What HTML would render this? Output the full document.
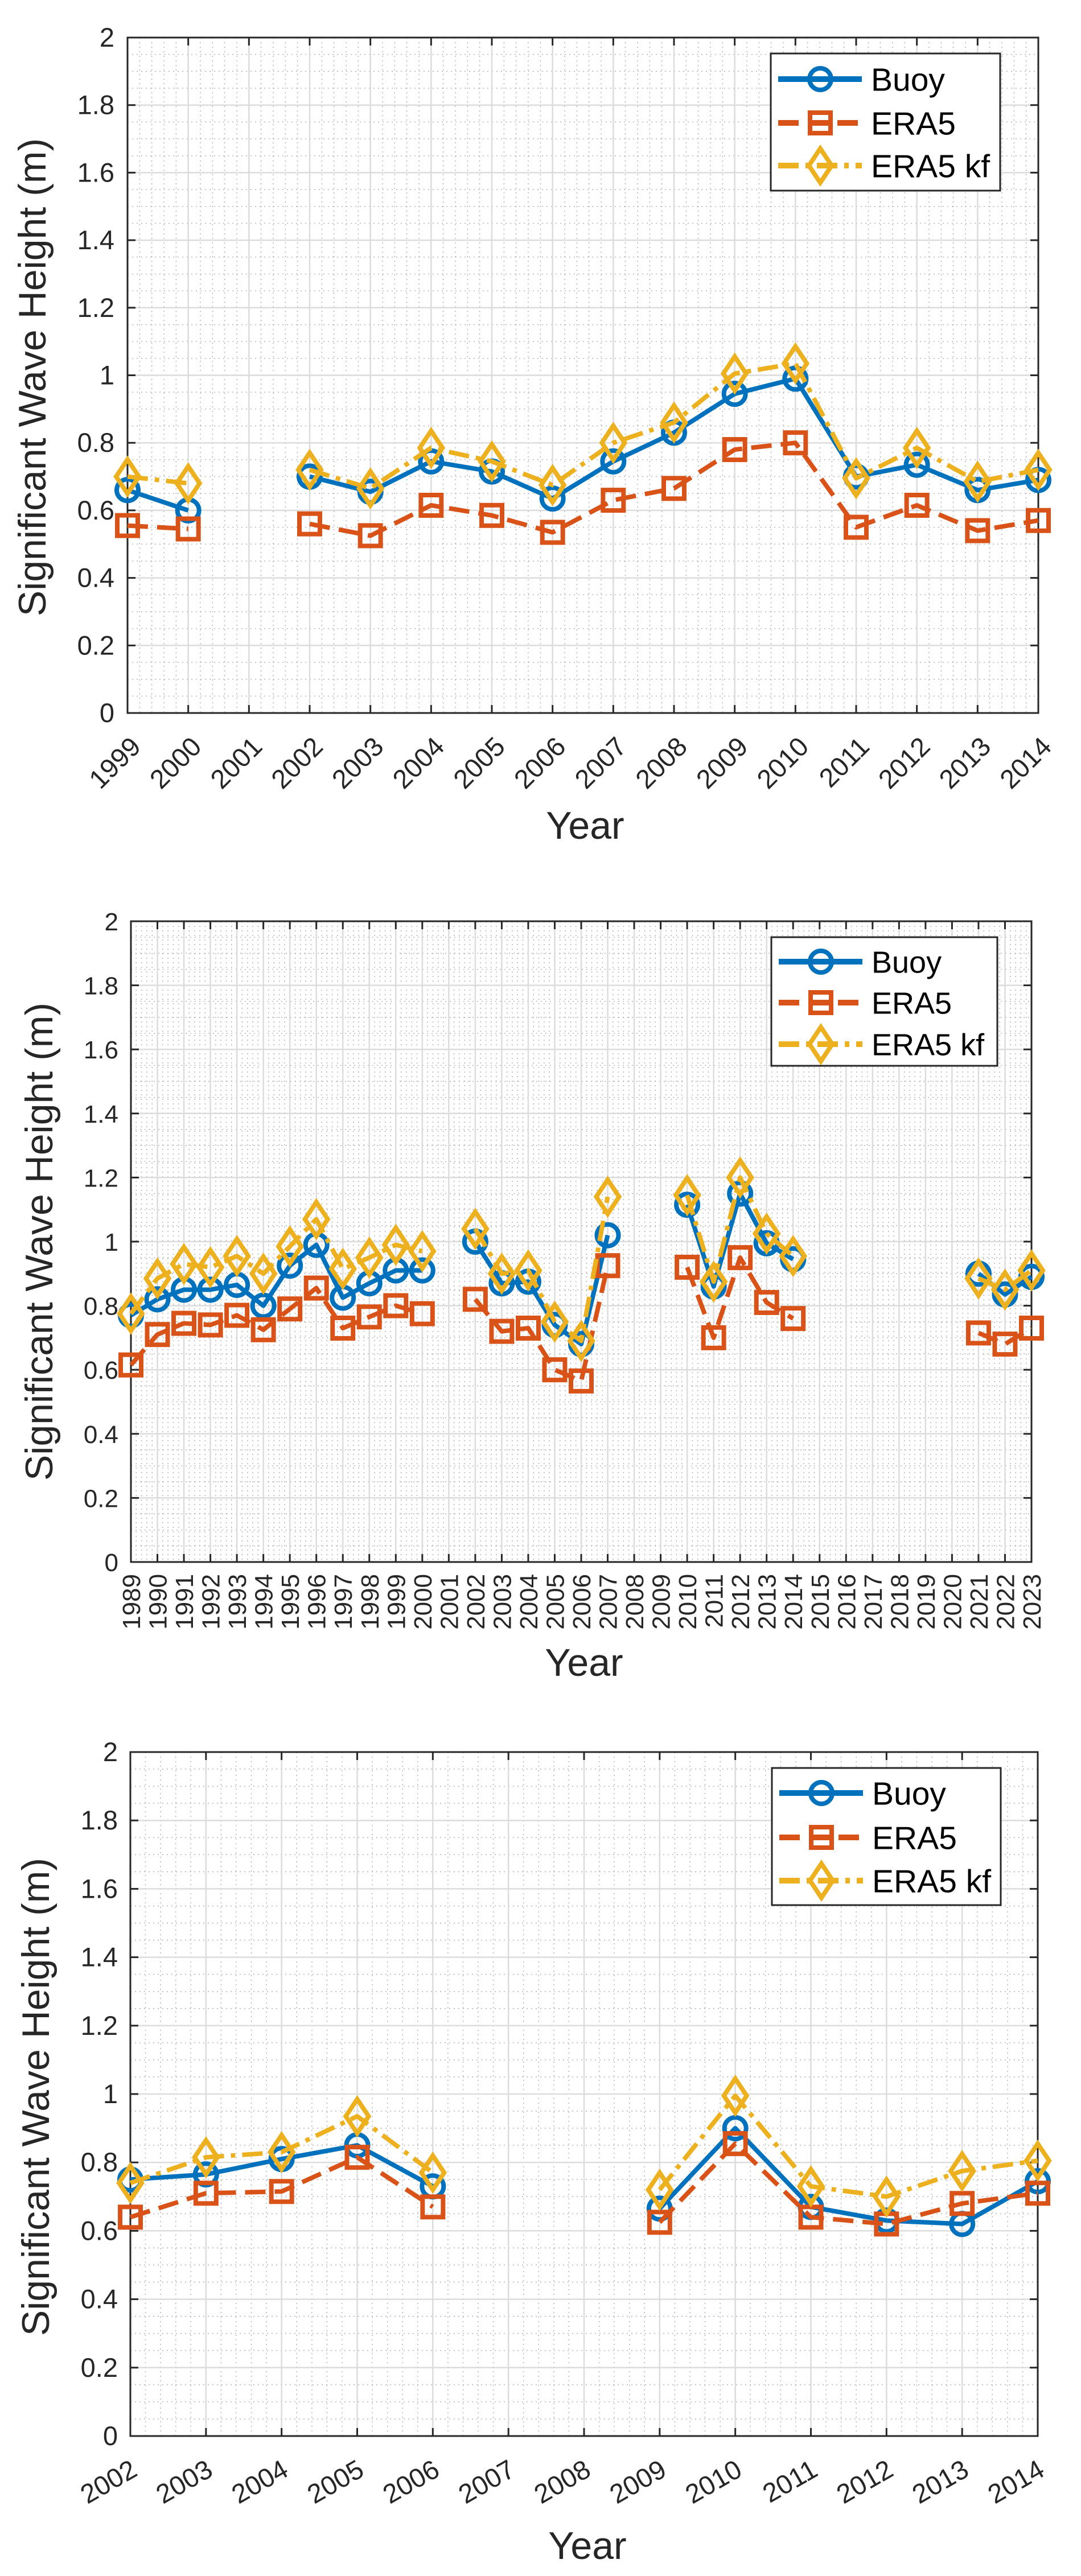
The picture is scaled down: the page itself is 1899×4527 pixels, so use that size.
<!DOCTYPE html>
<html><head><meta charset="utf-8">
<style>
html,body{margin:0;padding:0;background:#fff;}
svg{display:block;}
text{font-family:"Liberation Sans",Arial,sans-serif;}
</style></head>
<body>
<svg id="s" width="1899" height="4527" viewBox="0 0 1899 4527" xmlns="http://www.w3.org/2000/svg"></svg>
<script>
const NS="http://www.w3.org/2000/svg";
const svg=document.getElementById('s');
function el(t,a,txt){const e=document.createElementNS(NS,t);for(const k in a)e.setAttribute(k,a[k]);if(txt!==undefined)e.textContent=txt;svg.appendChild(e);return e;}
const BLUE="#0072BD",ORG="#D95319",YEL="#EDB120";
const N=null;
function chart(c){
  const {L,R,T,B,y0,y1}=c;
  const n=y1-y0, sx=(R-L)/n, sy=(B-T)/2;
  const X=v=>L+(v-y0)*sx, Y=v=>B-v*sy;
  for(let i=0;i<n;i++)for(let k=1;k<5;k++){const x=L+(i+k/5)*sx;el('line',{x1:x,y1:T,x2:x,y2:B,stroke:'#b4b4b4','stroke-width':1.5,'stroke-dasharray':'2 6'});}
  for(let v=0.05;v<2;v+=0.05){if(Math.abs(v/0.2-Math.round(v/0.2))<0.01)continue;const y=Y(v);el('line',{x1:L,y1:y,x2:R,y2:y,stroke:'#b4b4b4','stroke-width':1.5,'stroke-dasharray':'2 6'});}
  for(let i=1;i<n;i++){const x=X(y0+i);el('line',{x1:x,y1:T,x2:x,y2:B,stroke:'#dcdcdc','stroke-width':2.5});}
  for(let j=1;j<10;j++){const y=Y(j*0.2);el('line',{x1:L,y1:y,x2:R,y2:y,stroke:'#dcdcdc','stroke-width':2.5});}
  for(let i=0;i<=n;i++){const x=X(y0+i);el('line',{x1:x,y1:B,x2:x,y2:B-14,stroke:'#262626','stroke-width':3});el('line',{x1:x,y1:T,x2:x,y2:T+14,stroke:'#262626','stroke-width':3});}
  for(let j=0;j<=10;j++){const y=Y(j*0.2);el('line',{x1:L,y1:y,x2:L+14,y2:y,stroke:'#262626','stroke-width':3});el('line',{x1:R,y1:y,x2:R-14,y2:y,stroke:'#262626','stroke-width':3});
    const t=(j===0?'0':j===5?'1':j===10?'2':(j*0.2).toFixed(1));
    el('text',{x:c.ytx,y:y+16,'text-anchor':'end','font-size':c.tf,fill:'#262626'},t);}
  for(let i=0;i<=n;i++){const x=X(y0+i),yr=String(y0+i);
    if(c.rot===90){el('text',{x:0,y:0,'text-anchor':'end','font-size':c.tf,fill:'#262626',transform:`translate(${x+16},${B+21}) rotate(-90)`},yr);}
    else if(c.rot===45){el('text',{x:0,y:0,'text-anchor':'end','font-size':c.tf,fill:'#262626',transform:`translate(${x+26},${B+62}) rotate(-45)`},yr);}
    else {el('text',{x:0,y:0,'text-anchor':'end','font-size':c.tf,fill:'#262626',transform:`translate(${x+15},${B+68}) rotate(-30)`},yr);}
  }
  el('rect',{x:L,y:T,width:R-L,height:B-T,fill:'none',stroke:'#262626','stroke-width':3});
  const order=[[c.buoy,BLUE,'','ci'],[c.era,ORG,'36 16','sq'],[c.kf,YEL,'36 12 8 12','di']];
  for(const [d,col,da,m] of order){
    let segs=[],cur=[];
    d.forEach((v,i)=>{if(v===null){if(cur.length)segs.push(cur);cur=[];}else cur.push([X(y0+i),Y(v)]);});
    if(cur.length)segs.push(cur);
    for(const s of segs){if(s.length>1)el('polyline',{points:s.map(p=>p.join(',')).join(' '),fill:'none',stroke:col,'stroke-width':8,'stroke-dasharray':da,'stroke-linejoin':'round'});}
    d.forEach((v,i)=>{if(v===null)return;marker(m,X(y0+i),Y(v),col);});
  }
  const g=c.leg;
  el('rect',{x:g.l,y:g.t,width:g.r-g.l,height:g.b-g.t,fill:'#fff',stroke:'#262626','stroke-width':3});
  const items=[['Buoy',BLUE,'','ci'],['ERA5',ORG,'36 16','sq'],['ERA5 kf',YEL,'36 12 8 12','di']];
  items.forEach((it,k)=>{const y=g.rows[k];
    el('line',{x1:g.l+13,y1:y,x2:g.l+160,y2:y,stroke:it[1],'stroke-width':10,'stroke-dasharray':it[2]});
    marker(it[3],g.l+87,y,it[1]);
    el('text',{x:g.l+176,y:y+g.fs*0.36,'font-size':g.fs,fill:'#000'},it[0]);});
  el('text',{x:0,y:0,'text-anchor':'middle','font-size':68,fill:'#262626',transform:`translate(${c.ylx},${c.yly}) rotate(-90)`},'Significant Wave Height (m)');
  el('text',{x:c.xlx,y:c.xly,'text-anchor':'middle','font-size':68,fill:'#262626'},'Year');
}
function marker(m,x,y,col){
  if(m==='ci')el('circle',{cx:x,cy:y,r:19,fill:'none',stroke:col,'stroke-width':8});
  else if(m==='sq')el('rect',{x:x-18,y:y-18,width:36,height:36,fill:'none',stroke:col,'stroke-width':8});
  else el('polygon',{points:`${x},${y-30} ${x+20},${y} ${x},${y+30} ${x-20},${y}`,fill:'none',stroke:col,'stroke-width':8});
}
chart({L:224,R:1824,T:66,B:1253,y0:1999,y1:2014,rot:45,tf:47,ytx:201,
  buoy:[.66,.60,N,.70,.655,.745,.715,.635,.745,.83,.945,.99,.70,.735,.66,.69],
  era:[.555,.545,N,.56,.525,.615,.585,.535,.63,.665,.78,.80,.55,.615,.54,.57],
  kf:[.70,.68,N,.72,.665,.785,.745,.675,.80,.86,1.005,1.035,.695,.785,.685,.72],
  leg:{l:1354,r:1757,t:94,b:335,rows:[139,216,291],fs:57},
  ylx:80,yly:663,xlx:1028,xly:1474});
chart({L:230,R:1812,T:1619,B:2745,y0:1989,y1:2023,rot:90,tf:44,ytx:208,
  buoy:[.77,.82,.85,.85,.865,.80,.925,.99,.825,.87,.91,.91,N,1.0,.87,.875,.74,.68,1.02,N,N,1.115,.86,1.15,.995,.945,N,N,N,N,N,N,.90,.835,.89],
  era:[.615,.71,.745,.74,.77,.725,.79,.855,.73,.765,.80,.775,N,.82,.72,.73,.60,.565,.925,N,N,.92,.70,.95,.81,.76,N,N,N,N,N,N,.715,.68,.73],
  kf:[.775,.885,.93,.92,.955,.90,.985,1.07,.915,.95,.99,.97,N,1.04,.90,.91,.75,.69,1.14,N,N,1.145,.875,1.20,1.025,.955,N,N,N,N,N,N,.885,.85,.91],
  leg:{l:1355,r:1752,t:1647,b:1873,rows:[1690,1762,1835],fs:54},
  ylx:92,yly:2182,xlx:1026,xly:2945});
chart({L:229,R:1823,T:3079,B:4281,y0:2002,y1:2014,rot:30,tf:47,ytx:207,
  buoy:[.75,.765,.81,.85,.73,N,N,.665,.90,.67,.63,.62,.745],
  era:[.64,.71,.715,.815,.67,N,N,.625,.855,.64,.62,.68,.71],
  kf:[.74,.815,.83,.935,.77,N,N,.72,.995,.73,.70,.775,.805],
  leg:{l:1356,r:1758,t:3107,b:3348,rows:[3151,3229,3305],fs:57},
  ylx:86,yly:3685,xlx:1032,xly:4497});
</script>
</body></html>
